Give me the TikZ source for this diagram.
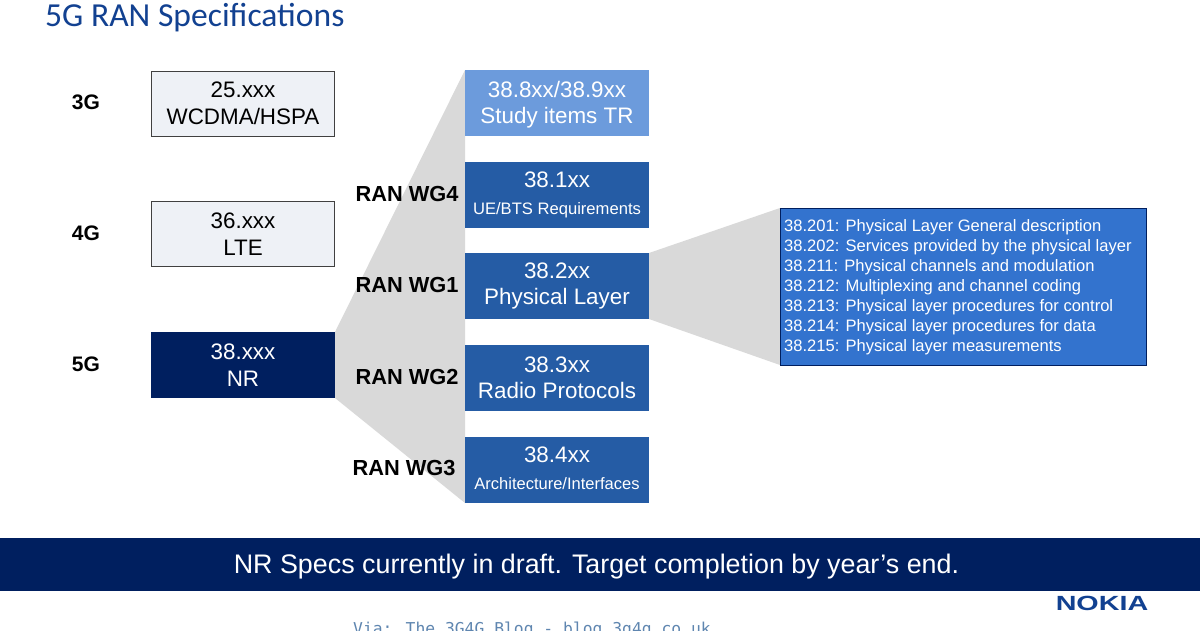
\documentclass[tikz,border=0pt]{standalone}
\usepackage{fontspec}
\setmainfont{Liberation Sans}
\newfontfamily\titlefont{Carlito}
\newfontfamily\viafont{DejaVu Sans Mono}
\definecolor{navy}{HTML}{001F5F}
\definecolor{midblue}{HTML}{255CA5}
\definecolor{lightblue}{HTML}{6C9BDC}
\definecolor{listblue}{HTML}{3373CE}
\definecolor{pale}{HTML}{EEF1F6}
\definecolor{fan}{HTML}{D9D9D9}
\definecolor{titleblue}{HTML}{124191}
\definecolor{viablue}{HTML}{5F86B0}
\newcommand{\fs}[1]{\fontsize{#1}{#1}\selectfont}
\newcommand{\fl}[2]{\fontsize{#1}{#2}\selectfont}
\tikzset{
  base/.style={rectangle,inner sep=0pt,outer sep=0pt,align=center,anchor=north west},
  palebox/.style={base,fill=pale,draw=black!75,line width=0.6pt,text=black,font=\fl{22.4}{26.5},minimum width=183pt,minimum height=65pt},
  navybox/.style={base,fill=navy,draw=navy,line width=0.6pt,text=white,font=\fl{22.4}{26.5},minimum width=183pt,minimum height=65pt},
  specbox/.style={base,fill=midblue,text=white,font=\fl{22.4}{26.5},minimum width=184pt,minimum height=66pt},
  gen/.style={font=\bfseries\fs{21},text=black,inner sep=0pt},
  wg/.style={font=\bfseries\fs{21.8},text=black,inner sep=0pt},
  fanfill/.style={fill=fan,draw=none},
}
\begin{document}
\begin{tikzpicture}[x=1pt,y=-1pt]
\useasboundingbox (0,0) rectangle (1200,630);
\clip (0,0) rectangle (1200,630);
\fill[white] (0,0) rectangle (1200,630);

\node[anchor=base west,inner sep=0pt,text=titleblue,font=\titlefont\fs{33.6}] (title) at (45,26) {5G RAN Specifications};

% fans
\coordinate (g5ne) at (335,332);
\coordinate (g5se) at (335,398);
\coordinate (fanta) at (465,70);
\coordinate (fantb) at (465,503);
\fill[fanfill] (g5ne) -- (fanta) -- (fantb) -- (g5se) -- cycle;
\fill[fanfill] (649,253) -- (780,208) -- (780,365) -- (649,319) -- cycle;

% boxes
\node[palebox] (g3) at (151.5,71) {25.xxx\\WCDMA/HSPA};
\node[palebox] (g4) at (151.5,201.5) {36.xxx\\LTE};
\node[navybox] (g5) at (151.5,332.5) {38.xxx\\NR};

\node[specbox,fill=lightblue] (s8) at (465,70) {\rule{0pt}{20pt}38.8xx/38.9xx\\Study items TR};
\node[specbox] (s1) at (465,162) {38.1xx\\[1pt]{\fs{16.6}UE/BTS Requirements}};
\node[specbox] (s2) at (465,253) {38.2xx\\Physical Layer};
\node[specbox] (s3) at (465,345) {38.3xx\\Radio Protocols};
\node[specbox] (s4) at (465,437) {38.4xx\\{\fs{16.5}\rule[-4pt]{0pt}{1pt}Architecture/Interfaces}};

\node[base,fill=listblue,draw=navy,line width=0.6pt,minimum width=366pt,minimum height=157pt] (list) at (780,208) {};
\node[anchor=north west,inner sep=0pt,align=left,text=white,font=\fl{16.55}{20}] (listtext) at (784,219) {%
38.201: Physical Layer General description\\
38.202: Services provided by the physical layer\\
38.211: Physical channels and modulation\\
38.212: Multiplexing and channel coding\\
38.213: Physical layer procedures for control\\
38.214: Physical layer procedures for data\\
38.215: Physical layer measurements};

% generation labels
\node[gen] (l3) at (86,102) {3G};
\node[gen] (l4) at (86,233) {4G};
\node[gen] (l5) at (86,364) {5G};

% working group labels
\node[wg] (w4) at (407,194) {RAN WG4};
\node[wg] (w1) at (407,285) {RAN WG1};
\node[wg] (w2) at (407,377) {RAN WG2};
\node[wg] (w3) at (404,468) {RAN WG3};

% banner
\node[base,fill=navy,minimum width=1200pt,minimum height=53pt] (banner) at (0,538) {};
\node[text=white,inner sep=0pt,font=\fs{26.85}] (bannertext) at (596.5,567) {NR Specs currently in draft. Target completion by year’s end.};

% logo and credit
\node[inner sep=0pt,text=titleblue,font=\bfseries\fs{20.5}] (logo) at (1102,603.5) {\scalebox{1.40}[1]{NOKIA}};
\node[anchor=base west,inner sep=0pt,text=viablue,font=\viafont\fs{16.35}] (via) at (353,634) {Via: The 3G4G Blog - blog.3g4g.co.uk};
\end{tikzpicture}
\end{document}
